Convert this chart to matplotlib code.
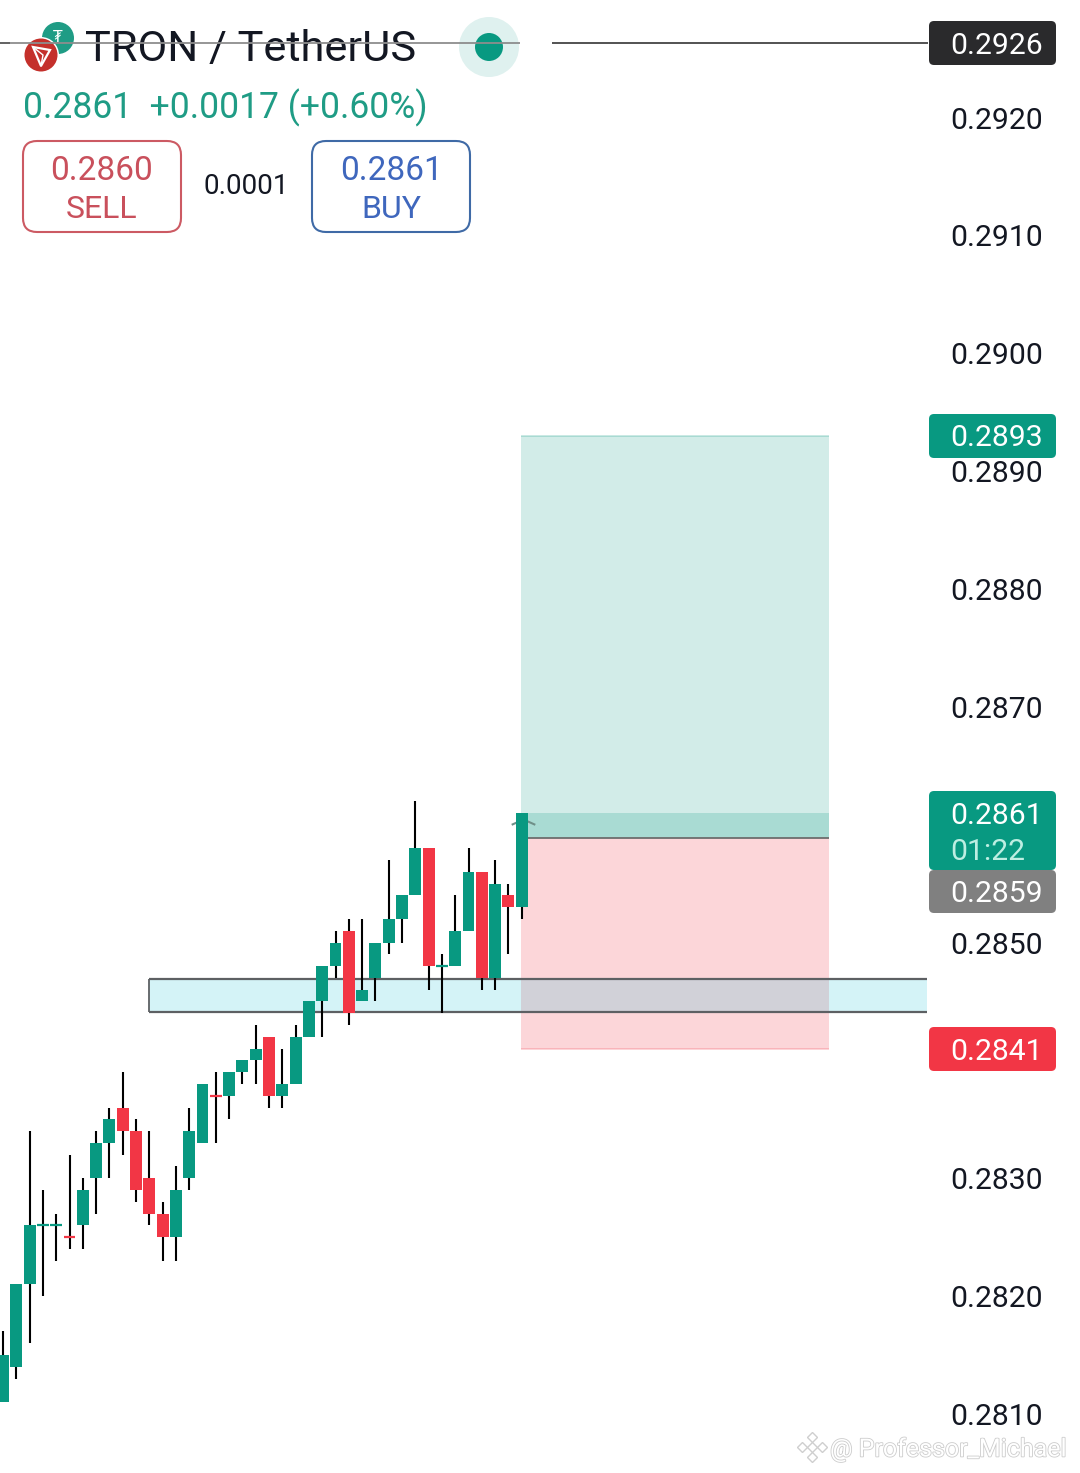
import matplotlib
matplotlib.use("Agg")
import matplotlib.pyplot as plt
import matplotlib.patheffects as pe
import numpy as np
from matplotlib.patches import Circle, FancyBboxPatch, Polygon, Rectangle
from matplotlib.path import Path

plt.rcParams["font.family"] = ["Roboto", "DejaVu Sans"]

opens = [.2811, .2814, .2821, .2826, .2826, .2825, .2826, .2830, .2833, .2836,
         .2834, .2830, .2827, .2825, .2830, .2833, .2837, .2837, .2839, .2840,
         .2842, .2837, .2838, .2842, .2845, .2848, .2851, .2845, .2847, .2850,
         .2852, .2854, .2858, .2848, .2848, .2851, .2856, .2847, .2854, .2853]
highs = [.2817, .2821, .2834, .2829, .2827, .2832, .2830, .2834, .2836, .2839,
         .2835, .2834, .2828, .2831, .2836, .2838, .2839, .2839, .2840, .2843,
         .2842, .2841, .2843, .2845, .2848, .2851, .2852, .2852, .2850, .2857,
         .2854, .2862, .2858, .2849, .2854, .2858, .2856, .2857, .2855, .2861]
lows = [.2811, .2813, .2816, .2820, .2823, .2824, .2824, .2827, .2830, .2832,
        .2828, .2826, .2823, .2823, .2829, .2833, .2833, .2835, .2838, .2838,
        .2836, .2836, .2838, .2842, .2842, .2847, .2843, .2845, .2845, .2849,
        .2850, .2854, .2846, .2844, .2848, .2851, .2846, .2846, .2849, .2852]
closes = [.2815, .2821, .2826, .2826, .2826, .2825, .2829, .2833, .2835, .2834,
          .2829, .2827, .2825, .2829, .2834, .2838, .2837, .2839, .2840, .2841,
          .2837, .2838, .2842, .2845, .2848, .2850, .2844, .2846, .2850, .2852,
          .2854, .2858, .2848, .2848, .2851, .2856, .2847, .2855, .2853, .2861]
red_dojis = [5, 16]

price_ticks = [.2920, .2910, .2900, .2890, .2880, .2870, .2850, .2830, .2820, .2810]

entry_price = .28589
target_price = .2893
stop_price = .2841
last_price = .2861
zone_top = .28469
zone_bottom = .28441
alert_price = .29263

TEAL = "#089981"
RED = "#F23645"

opens = np.array(opens)
highs = np.array(highs)
lows = np.array(lows)
closes = np.array(closes)
x = np.arange(len(opens))
up = closes >= opens
up[red_dojis] = False
colors = np.where(up, TEAL, RED)
body_low = np.minimum(opens, closes)
body_high = np.maximum(opens, closes)

fig = plt.figure(figsize=(10.8, 14.73), dpi=100, facecolor="white")

# main price axes fills the whole picture, 13.3 px per bar and 117850 px per unit of price
ax = fig.add_axes([0, 0, 1, 1], zorder=1)
ax.set_xlim(-3 / 13.3, (1080 - 3) / 13.3)
ax.set_ylim(.2920 - (1473 - 117.6) / 117850, .2920 + 117.6 / 117850)
for s in ax.spines.values():
    s.set_visible(False)
ax.set_xticks([])
ax.yaxis.tick_right()
ax.set_yticks(price_ticks)
ax.set_yticklabels([f"{p:.4f}" for p in price_ticks])
ax.tick_params(axis="y", length=0, pad=-(1080 - 950.5) * 0.72, labelsize=21.7, labelcolor="#131722")


def bar_x(px):
    return (px - 3) / 13.3


# long position tool
pos_left = bar_x(521)
pos_right = bar_x(829)
ax.add_patch(Rectangle((pos_left, entry_price), pos_right - pos_left, target_price - entry_price,
                       fc=TEAL, alpha=0.18, lw=0, zorder=2))
ax.add_patch(Rectangle((pos_left, last_price), pos_right - pos_left, entry_price - last_price,
                       fc=TEAL, alpha=0.2, lw=0, zorder=2))
ax.add_patch(Rectangle((pos_left, stop_price), pos_right - pos_left, entry_price - stop_price,
                       fc=RED, alpha=0.2, lw=0, zorder=2))
ax.hlines(target_price, pos_left, pos_right, color=TEAL, alpha=0.25, lw=1.2, zorder=2)
ax.hlines(stop_price, pos_left, pos_right, color=RED, alpha=0.25, lw=1.2, zorder=2)
ax.hlines(entry_price, pos_left, pos_right, color="#6d6d6d", lw=1.3, zorder=3)

# support zone
zone_left = bar_x(149)
zone_right = bar_x(927)
ax.add_patch(Rectangle((zone_left, zone_bottom), zone_right - zone_left, zone_top - zone_bottom,
                       fc="#00BCD4", alpha=0.17, lw=0, zorder=3))
ax.hlines([zone_top, zone_bottom], zone_left, zone_right, color="#5d6063", lw=1.6, zorder=3)
ax.vlines(zone_left, zone_bottom, zone_top, color="#5d6063", lw=1.3, zorder=3)

# candles
ax.vlines(x, lows, highs, color="black", lw=1.5, zorder=4)
solid = body_high > body_low
ax.bar(x[solid], (body_high - body_low)[solid], bottom=body_low[solid], width=0.9,
       color=colors[solid], lw=0, zorder=5)
ax.hlines(closes[~solid], x[~solid] - 0.45, x[~solid] + 0.45, colors=colors[~solid], lw=1.6, zorder=5)

# small chevron behind the last candle
chevron = Path([(-1, -0.45), (0, 0), (1, -0.45)], [Path.MOVETO, Path.LINETO, Path.LINETO])
ax.plot([x[-1] + 0.1], [last_price - 0.00005], marker=chevron, ms=17, mfc="none", mec="#6f8f88", mew=1.5,
        ls="none", zorder=4)

# alert line, faded where the header sits over it
ax.hlines(alert_price, bar_x(0), bar_x(10), color="#555555", lw=1.3, zorder=3)
ax.hlines(alert_price, bar_x(552), bar_x(928), color="#444444", lw=1.3, zorder=3)

# overlay in pixels for header, price badges and watermark
ui = fig.add_axes([0, 0, 1, 1], zorder=2)
ui.set_xlim(0, 1080)
ui.set_ylim(1473, 0)
ui.axis("off")
ui.patch.set_alpha(0)


def badge(y0, y1, color):
    ui.add_patch(FancyBboxPatch((929 + 4, y0 + 4), 127 - 8, y1 - y0 - 8, boxstyle="round,pad=4,rounding_size=5",
                                fc=color, ec="none", zorder=3))


def label(text, y, color="white"):
    ui.text(950.5, y + 2.5, text, color=color, fontsize=21.7, ha="left", va="center", zorder=4)


badge(21, 65, "#2a2a2c")
label("0.2926", 43)
badge(414, 458, TEAL)
label("0.2893", 436)
badge(791, 870, TEAL)
label("0.2861", 813)
label("01:22", 849, "#bdeee2")
badge(870, 913, "#808080")
label("0.2859", 891)
badge(1027, 1071, RED)
label("0.2841", 1049)

# header
ui.add_patch(Circle((489, 47), 30, fc="#dff1ef", ec="none", zorder=1))
ui.add_patch(Circle((489, 47), 14, fc=TEAL, ec="none", zorder=2))
ui.add_patch(Circle((58, 38), 16, fc="#1f9c85", ec="none", zorder=2))
ui.text(58, 38, "₮", color="white", fontsize=11, ha="center", va="center", family="DejaVu Sans", zorder=3)
ui.add_patch(Circle((41, 55), 18, fc="white", ec="none", zorder=3))
ui.add_patch(Circle((41, 55), 16.5, fc="#c4302b", ec="none", zorder=4))
ui.add_patch(Polygon([(33, 47), (50, 50), (41, 66)], closed=True, fc="none", ec="white", lw=1.6, zorder=5))
ui.plot([33, 43, 41], [47, 55, 66], color="white", lw=1, zorder=5)

ui.text(85, 61, "TRON / TetherUS", color="#131722", fontsize=31.25, ha="left", va="baseline", zorder=2)
ui.hlines(43, 10, 520, color="#8d8d8d", lw=1.3, zorder=6)
ui.text(23, 118, "0.2861  +0.0017 (+0.60%)", color="#1f9c85", fontsize=25.6, ha="left", va="baseline", zorder=2)

ui.add_patch(FancyBboxPatch((23 + 14, 141 + 14), 158 - 28, 91 - 28, boxstyle="round,pad=14,rounding_size=14",
                            fc="white", ec="#cc5a63", lw=1.5, zorder=2))
ui.text(102, 171, "0.2860", color="#c9505c", fontsize=24, ha="center", va="center", zorder=3)
ui.text(102, 210, "SELL", color="#c9505c", fontsize=23, ha="center", va="center", zorder=3)
ui.text(246, 187, "0.0001", color="#131722", fontsize=20, ha="center", va="center", zorder=3)
ui.add_patch(FancyBboxPatch((312 + 14, 141 + 14), 158 - 28, 91 - 28, boxstyle="round,pad=14,rounding_size=14",
                            fc="white", ec="#3f6aa6", lw=1.5, zorder=2))
ui.text(391, 171, "0.2861", color="#3f67bd", fontsize=24, ha="center", va="center", zorder=3)
ui.text(391, 210, "BUY", color="#3f67bd", fontsize=23, ha="center", va="center", zorder=3)

# watermark
ui.text(830, 1449, "@ Professor_Michael", color="white", fontsize=18, ha="left", va="center", zorder=4,
        path_effects=[pe.withStroke(linewidth=1.2, foreground="#cccccc")])
ui.plot([812, 802, 822, 812, 812], [1447, 1447, 1447, 1437, 1457], ls="none", marker="D", ms=5.5,
        mfc="white", mec="#cfcfcf", mew=1, zorder=4)

fig.savefig("out.png", dpi=100)
